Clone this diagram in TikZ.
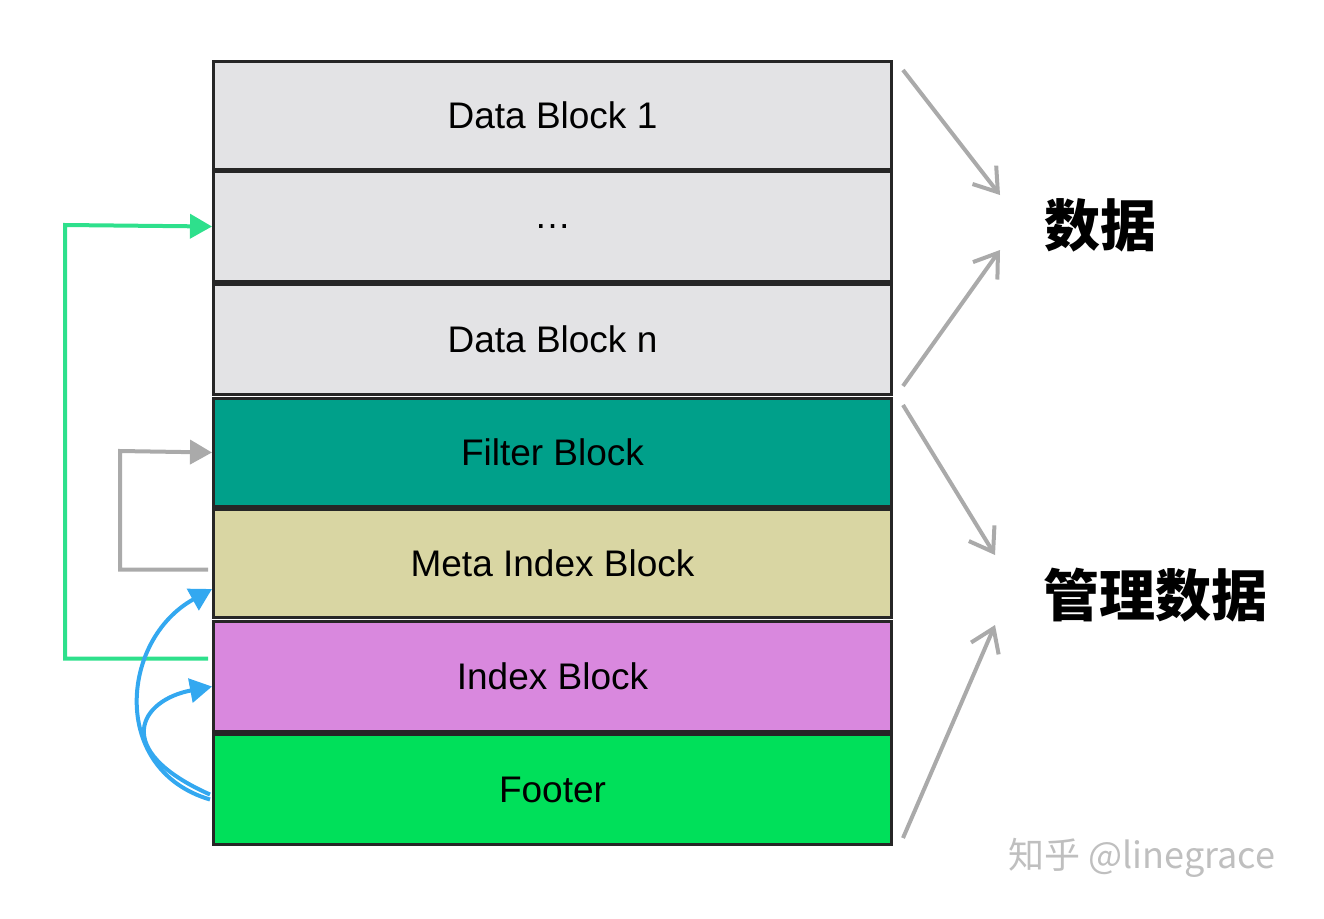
\documentclass[tikz,border=0pt]{standalone}
\usepackage{fontspec}
\setmainfont{Liberation Sans}
\newfontfamily\cjk{Noto Sans CJK SC}
\usetikzlibrary{arrows.meta}
\definecolor{datagray}{HTML}{E3E3E5}
\definecolor{filterteal}{HTML}{00A08A}
\definecolor{metakhaki}{HTML}{D9D6A3}
\definecolor{indexpink}{HTML}{D988DE}
\definecolor{footergreen}{HTML}{00E05A}
\definecolor{linkgreen}{HTML}{2EE08C}
\definecolor{linkblue}{HTML}{33A8F0}
\definecolor{linkgray}{HTML}{AAAAAA}
\tikzset{
  blk/.style={draw=black!85, line width=3pt, minimum width=678pt, inner sep=0pt,
    font=\fontsize{37}{42}\selectfont, anchor=north west},
  grayarr/.style={linkgray, line width=4pt, -{Straight Barb[length=22pt,width=30pt]}},
  link/.style={line width=4pt, -{Triangle[length=22pt,width=24pt]}},
}
\begin{document}
\begin{tikzpicture}[x=1pt,y=-1pt]
\useasboundingbox (0,0) rectangle (1324,918);

% First, the stack of blocks
\node[blk, fill=datagray, minimum height=108pt] (d1) at (212,60) {Data Block 1};
\node[blk, fill=datagray, minimum height=110pt] (dots) at (212,170) {\dots};
\node[blk, fill=datagray, minimum height=110pt] (dn) at (212,283) {Data Block n};
\node[blk, fill=filterteal, minimum height=108pt] (filter) at (212,397) {Filter Block};
\node[blk, fill=metakhaki, minimum height=108pt] (meta) at (212,508) {Meta Index Block};
\node[blk, fill=indexpink, minimum height=110pt] (index) at (212,620) {Index Block};
\node[blk, fill=footergreen, minimum height=110pt] (footer) at (212,733) {Footer};

% labels on the right
\node[font=\cjk\bfseries\fontsize{56}{60}\selectfont] (data) at (1100,225) {数据};
\node[font=\cjk\bfseries\fontsize{56}{60}\selectfont] (mgmt) at (1155,595) {管理数据};
\node[font=\cjk\fontsize{36}{40}\selectfont, text=black!25] (mark) at (1142,858) {知乎 @linegrace};

% grey arrows into the labels
\coordinate (dTop) at (1000,195);
\coordinate (dBot) at (1000,250);
\coordinate (mTop) at (995,555);
\coordinate (mBot) at (995,625);
\draw[grayarr] (d1.north east) ++(10,10) -- (dTop);
\draw[grayarr] (dn.south east) ++(10,-10) -- (dBot);
\draw[grayarr] (filter.north east) ++(10,8) -- (mTop);
\draw[grayarr] (footer.south east) ++(10,-8) -- (mBot);

% links on the left
\draw[link, linkgreen] (index.west) ++(-4,-18) -| (65,225) -- (dots.west);
\draw[link, linkgray] (meta.west) ++(-4,6) -| (120,451) -- (filter.west);
\draw[link, linkblue] (footer.west) ++(-2,10) .. controls (110,770) and (120,640) .. ([yshift=30pt]meta.south west);
\draw[link, linkblue] (footer.west) ++(-2,5) .. controls (110,750) and (140,700) .. ([yshift=-10pt]index.west);
\end{tikzpicture}
\end{document}
